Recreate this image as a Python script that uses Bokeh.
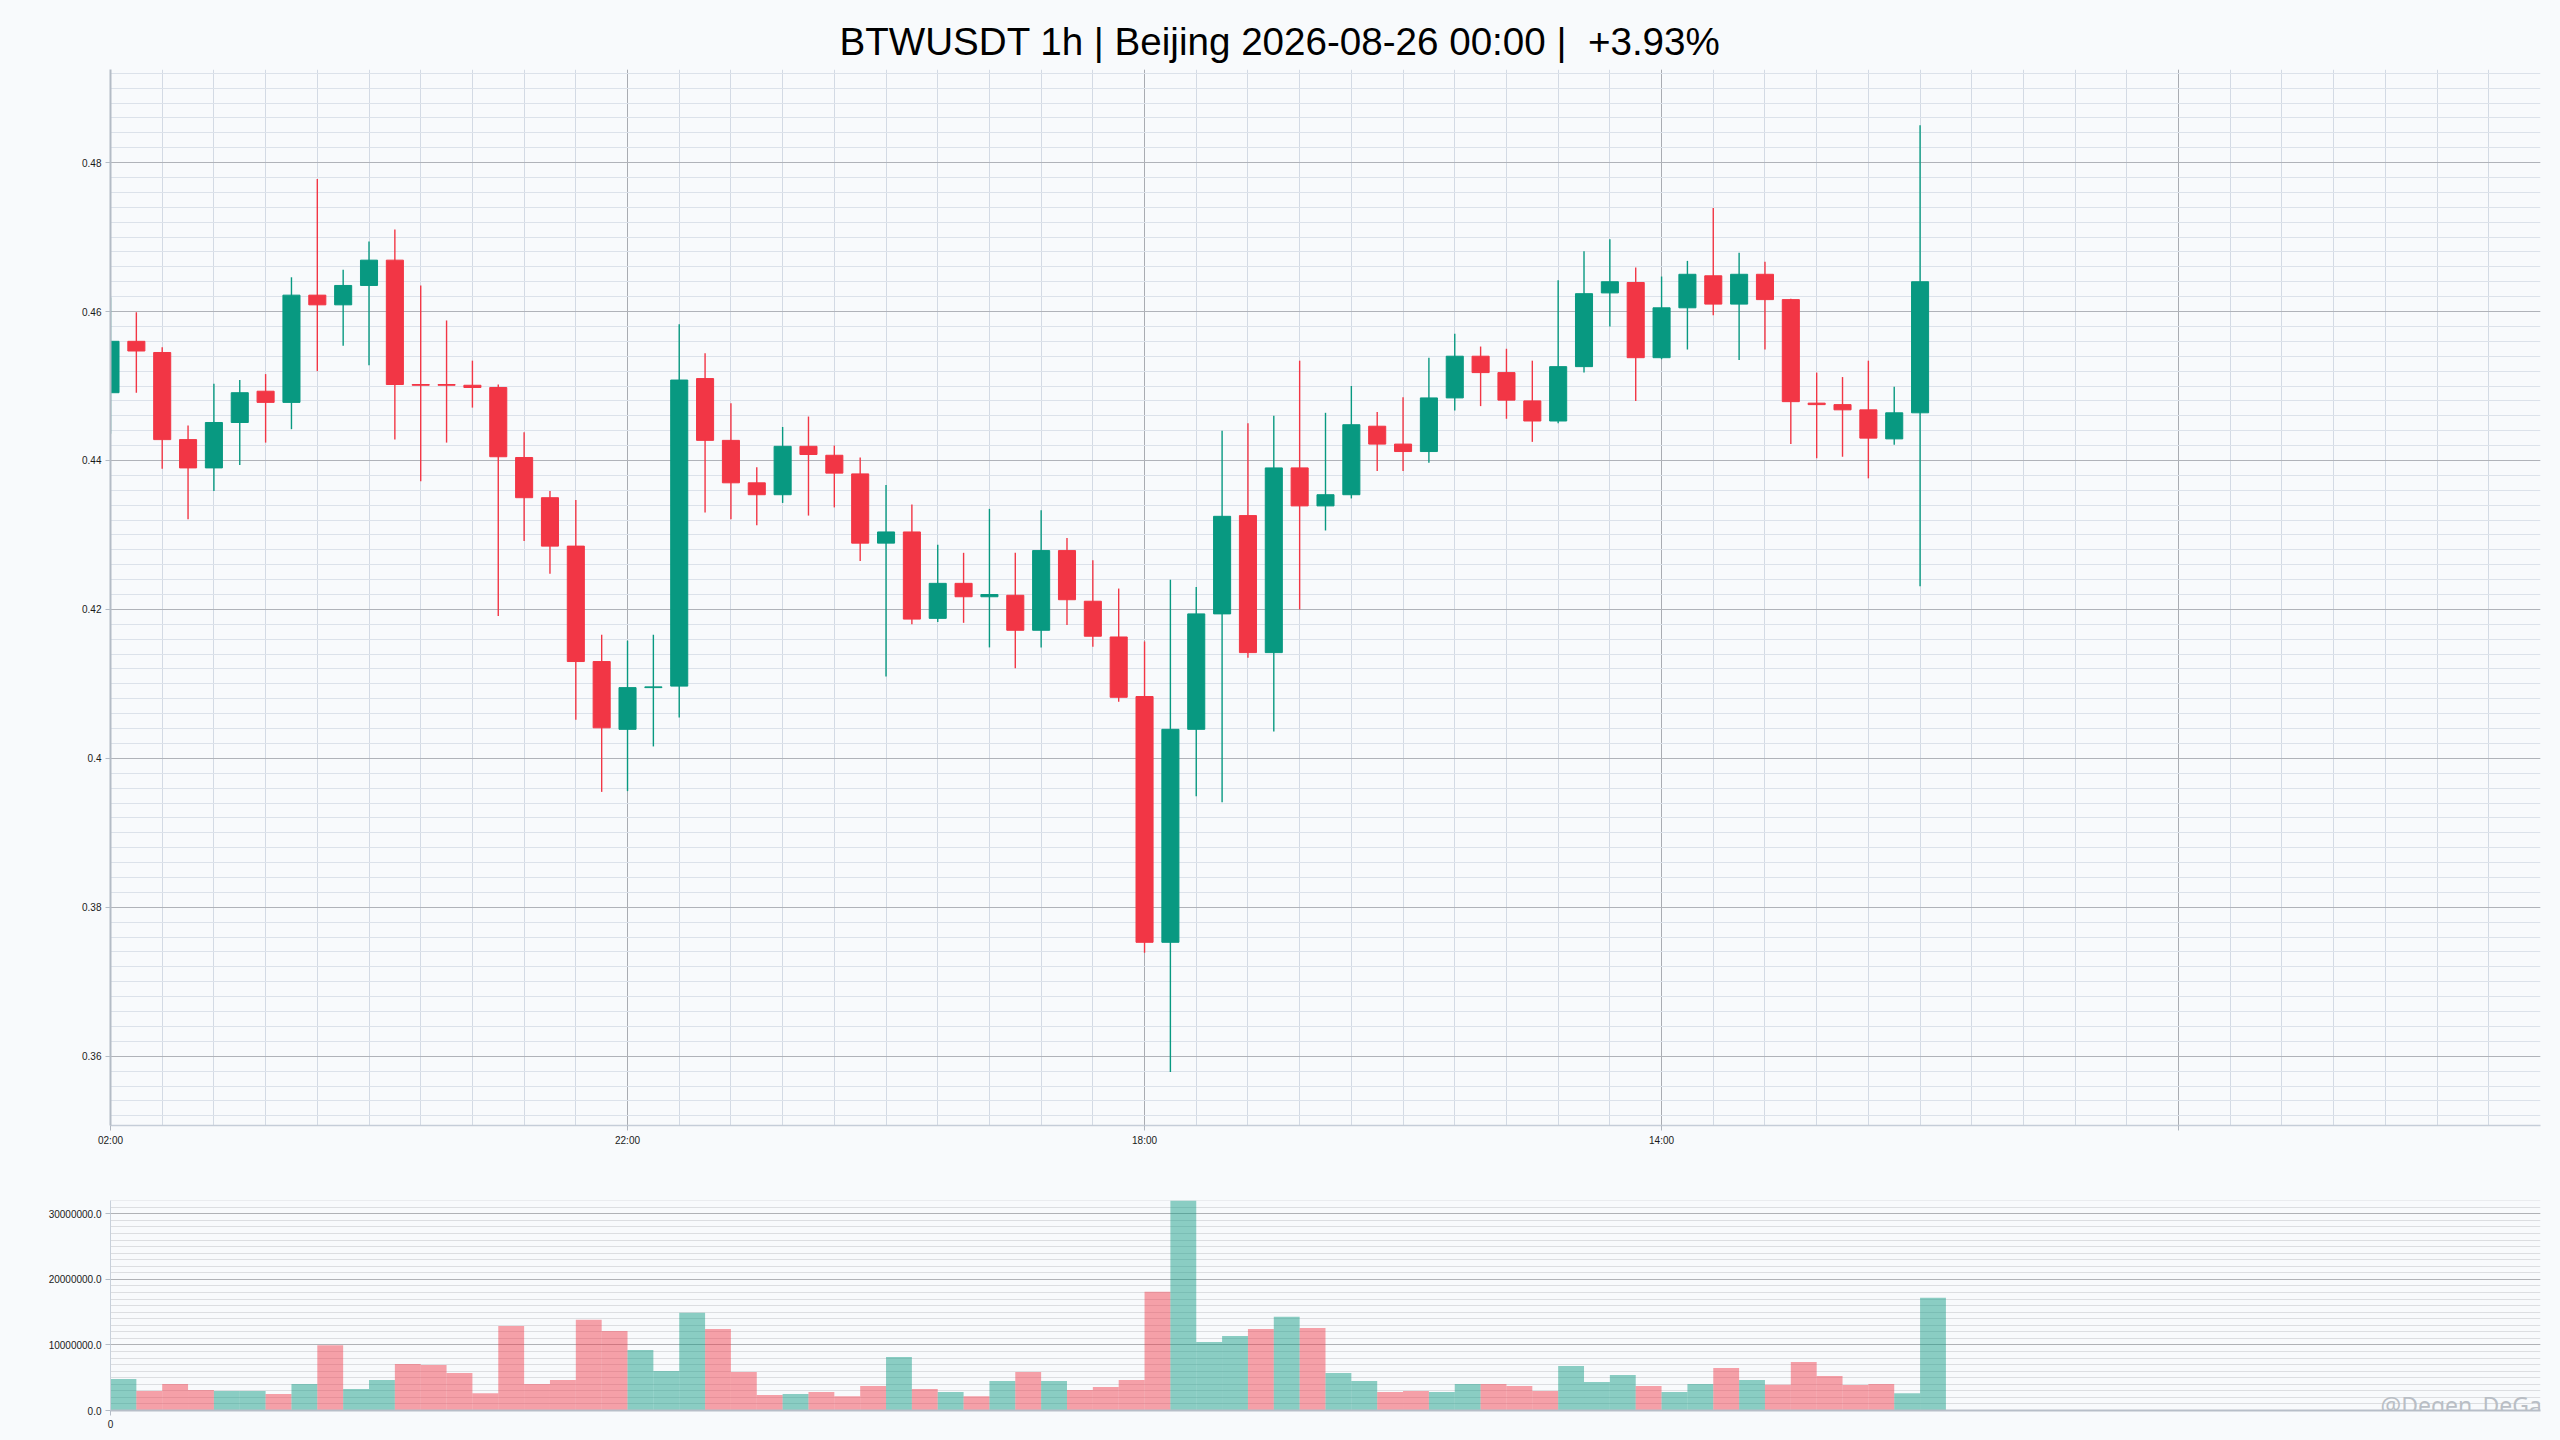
from bokeh.plotting import figure
from bokeh.models import Range1d, FixedTicker, Label, ColumnDataSource
from bokeh.layouts import column
from bokeh.embed import file_html
from bokeh.resources import INLINE

# ---------------- data ----------------
title_text = "BTWUSDT 1h | Beijing 2026-08-26 00:00 |\u00a0 +3.93%"

opens = [0.4491, 0.4560, 0.4545, 0.4428, 0.4390, 0.4451, 0.4493, 0.4478, 0.4622, 0.4609,
         0.4635, 0.4669, 0.4502, 0.4502, 0.4501, 0.4498, 0.4404, 0.4350, 0.4285, 0.4130,
         0.4039, 0.4095, 0.4097, 0.4510, 0.4427, 0.4370, 0.4354, 0.4419, 0.4407, 0.4382,
         0.4289, 0.4304, 0.4188, 0.4235, 0.4217, 0.4219, 0.4172, 0.4279, 0.4211, 0.4163,
         0.4083, 0.3753, 0.4039, 0.4194, 0.4326, 0.4142, 0.4390, 0.4339, 0.4354, 0.4446,
         0.4422, 0.4412, 0.4484, 0.4540, 0.4518, 0.4480, 0.4453, 0.4526, 0.4625, 0.4639,
         0.4538, 0.4605, 0.4648, 0.4610, 0.4650, 0.4616, 0.4477, 0.4475, 0.4468, 0.4429,
         0.4464]
highs = [0.4619, 0.4599, 0.4552, 0.4447, 0.4503, 0.4508, 0.4516, 0.4646, 0.4778, 0.4656,
         0.4694, 0.4710, 0.4635, 0.4588, 0.4534, 0.4502, 0.4438, 0.4359, 0.4347, 0.4166,
         0.4158, 0.4166, 0.4583, 0.4544, 0.4477, 0.4391, 0.4445, 0.4459, 0.4420, 0.4404,
         0.4367, 0.4341, 0.4287, 0.4276, 0.4335, 0.4276, 0.4333, 0.4296, 0.4266, 0.4228,
         0.4157, 0.4240, 0.4230, 0.4440, 0.4450, 0.4460, 0.4534, 0.4464, 0.4500, 0.4465,
         0.4485, 0.4538, 0.4570, 0.4553, 0.4550, 0.4534, 0.4642, 0.4681, 0.4697, 0.4659,
         0.4647, 0.4668, 0.4739, 0.4679, 0.4667, 0.4617, 0.4518, 0.4512, 0.4534, 0.4499,
         0.4850]
lows = [0.4436, 0.4491, 0.4389, 0.4321, 0.4359, 0.4394, 0.4424, 0.4442, 0.4520, 0.4554,
        0.4528, 0.4428, 0.4372, 0.4424, 0.4471, 0.4191, 0.4292, 0.4248, 0.4052, 0.3955,
        0.3956, 0.4016, 0.4055, 0.4330, 0.4321, 0.4313, 0.4343, 0.4326, 0.4337, 0.4265,
        0.4110, 0.4180, 0.4183, 0.4182, 0.4149, 0.4121, 0.4149, 0.4179, 0.4150, 0.4076,
        0.3739, 0.3579, 0.3949, 0.3941, 0.4135, 0.4036, 0.4200, 0.4306, 0.4349, 0.4386,
        0.4386, 0.4397, 0.4467, 0.4473, 0.4456, 0.4425, 0.4450, 0.4518, 0.4580, 0.4480,
        0.4536, 0.4549, 0.4595, 0.4535, 0.4549, 0.4422, 0.4403, 0.4405, 0.4376, 0.4421,
        0.4231]
closes = [0.4560, 0.4547, 0.4428, 0.4390, 0.4451, 0.4491, 0.4478, 0.4622, 0.4609, 0.4635,
          0.4669, 0.4502, 0.4501, 0.4501, 0.4498, 0.4405, 0.4350, 0.4285, 0.4130, 0.4041,
          0.4095, 0.4096, 0.4508, 0.4427, 0.4370, 0.4354, 0.4419, 0.4408, 0.4383, 0.4289,
          0.4304, 0.4187, 0.4235, 0.4217, 0.4220, 0.4172, 0.4279, 0.4213, 0.4164, 0.4082,
          0.3753, 0.4039, 0.4194, 0.4325, 0.4142, 0.4390, 0.4339, 0.4354, 0.4448, 0.4422,
          0.4412, 0.4484, 0.4540, 0.4518, 0.4481, 0.4453, 0.4526, 0.4624, 0.4640, 0.4538,
          0.4605, 0.4650, 0.4610, 0.4650, 0.4616, 0.4479, 0.4475, 0.4468, 0.4430, 0.4464,
          0.4640]
volumes = [4.80e6, 2.96e6, 4.03e6, 3.11e6, 2.96e6, 2.96e6, 2.50e6, 4.03e6, 9.95e6, 3.27e6,
           4.64e6, 7.09e6, 6.94e6, 5.71e6, 2.65e6, 12.91e6, 4.03e6, 4.64e6, 13.83e6, 12.14e6,
           9.23e6, 6.02e6, 14.90e6, 12.45e6, 5.87e6, 2.35e6, 2.50e6, 2.81e6, 2.19e6, 3.72e6,
           8.16e6, 3.27e6, 2.81e6, 2.19e6, 4.49e6, 5.87e6, 4.49e6, 3.11e6, 3.57e6, 4.64e6,
           18.11e6, 32.04e6, 10.46e6, 11.38e6, 12.45e6, 14.29e6, 12.60e6, 5.71e6, 4.49e6, 2.81e6,
           2.96e6, 2.81e6, 4.03e6, 4.03e6, 3.72e6, 2.96e6, 6.79e6, 4.34e6, 5.41e6, 3.72e6,
           2.81e6, 4.03e6, 6.48e6, 4.64e6, 3.93e6, 7.40e6, 5.26e6, 3.88e6, 4.03e6, 2.65e6,
           17.19e6]

x_tick_positions = [0, 20, 40, 60, 80]
x_tick_labels = ["02:00", "22:00", "18:00", "14:00", ""]
price_ticks = [0.36, 0.38, 0.40, 0.42, 0.44, 0.46, 0.48]
price_tick_labels = ["0.36", "0.38", "0.4", "0.42", "0.44", "0.46", "0.48"]
vol_ticks = [0, 10000000, 20000000, 30000000]
vol_tick_labels = ["0.0", "10000000.0", "20000000.0", "30000000.0"]
watermark = "@Degen_DeGa"

# ---------------- styling ----------------
BG = "#F8FAFC"
UP = "#089981"
DOWN = "#F23645"
FONT = "Liberation Sans"

n = len(opens)
idx = list(range(n))
colors = [UP if c >= o else DOWN for o, c in zip(opens, closes)]

src = ColumnDataSource(dict(
    x=idx,
    x_right=[i + 1 for i in idx],
    o=opens, h=highs, l=lows, c=closes,
    top=[max(o, c) for o, c in zip(opens, closes)],
    bot=[min(o, c) for o, c in zip(opens, closes)],
    color=colors,
    vol=volumes,
))

xr = Range1d(0, 94)

p = figure(width=2560, height=1158, output_backend="svg", toolbar_location=None,
           x_range=xr, y_range=Range1d(0.3507, 0.4925),
           min_border_left=110, min_border_right=20, min_border_top=69, min_border_bottom=33,
           background_fill_color=BG, border_fill_color=BG, outline_line_color=None)

p.title.text = title_text
p.title.align = "left"
p.title.offset = 729
p.title.standoff = 13
p.title.text_font = FONT
p.title.text_font_size = "38.6px"
p.title.text_font_style = "normal"
p.title.text_color = "#000000"

p.segment(x0="x", y0="l", x1="x", y1="h", source=src, line_color="color", line_width=1.4)
p.vbar(x="x", width=0.66, top="top", bottom="bot", source=src,
       fill_color="color", line_color="color", line_width=1)

# axes
p.xaxis.ticker = FixedTicker(ticks=x_tick_positions, minor_ticks=list(range(0, 96, 2)))
p.xaxis.major_label_overrides = {t: lab for t, lab in zip(x_tick_positions, x_tick_labels)}
p.yaxis.ticker = FixedTicker(ticks=price_ticks,
                             minor_ticks=[round(0.350 + 0.002 * k, 3) for k in range(72)])
p.yaxis.major_label_overrides = {t: lab for t, lab in zip(price_ticks, price_tick_labels)}
for ax in (p.xaxis, p.yaxis):
    ax.major_label_text_font = FONT
    ax.major_label_text_font_size = "10px"
    ax.major_label_text_color = "#1a1a1a"
    ax.major_tick_in = 0
    ax.major_tick_out = 5
    ax.minor_tick_in = 0
    ax.minor_tick_out = 0
    ax.major_label_standoff = 4
p.yaxis.axis_line_color = "#b4bcc6"
p.yaxis.axis_line_width = 2
p.yaxis.major_tick_line_color = "#b4bcc6"
p.xaxis.axis_line_color = "#c5cdd8"
p.xaxis.axis_line_width = 1.5
p.xaxis.major_tick_line_color = "#b0b6bf"

p.xgrid.grid_line_color = "#a9acb2"
p.xgrid.grid_line_width = 1
p.xgrid.minor_grid_line_color = "#d3dae4"
p.xgrid.minor_grid_line_width = 1
p.ygrid.grid_line_color = "#b0b3b9"
p.ygrid.grid_line_width = 1
p.ygrid.minor_grid_line_color = "#dce2ea"
p.ygrid.minor_grid_line_width = 1

# ---------------- volume ----------------
v = figure(width=2560, height=282, output_backend="svg", toolbar_location=None,
           x_range=xr, y_range=Range1d(0, max(volumes)),
           min_border_left=110, min_border_right=20, min_border_top=42, min_border_bottom=30,
           background_fill_color=BG, border_fill_color=BG, outline_line_color=None)
v.quad(left="x", right="x_right", bottom=0, top="vol", source=src,
       fill_color="color", fill_alpha=0.46, line_color=None)

v.xaxis.ticker = FixedTicker(ticks=[0])
v.xaxis.major_label_overrides = {0: "0"}
v.yaxis.ticker = FixedTicker(ticks=vol_ticks, minor_ticks=[k * 1000000 for k in range(33)])
v.yaxis.major_label_overrides = {t: lab for t, lab in zip(vol_ticks, vol_tick_labels)}
for ax in (v.xaxis, v.yaxis):
    ax.major_label_text_font = FONT
    ax.major_label_text_font_size = "10px"
    ax.major_label_text_color = "#1a1a1a"
    ax.major_tick_in = 0
    ax.major_tick_out = 5
    ax.minor_tick_in = 0
    ax.minor_tick_out = 0
    ax.major_label_standoff = 4
    ax.major_tick_line_color = "#b4bcc6"
v.yaxis.axis_line_color = "#c8d0da"
v.yaxis.axis_line_width = 1
v.xaxis.axis_line_color = "#b7bec8"
v.xaxis.axis_line_width = 2
v.xgrid.visible = False
v.ygrid.grid_line_color = "#b0b2b6"
v.ygrid.minor_grid_line_color = "#dcdee1"

v.add_layout(Label(x=2270, y=6, x_units="screen", y_units="screen", text=watermark,
                   text_font="Noto Sans", text_font_size="23px", text_color="#b9bec5",
                   text_baseline="alphabetic", level="overlay"))

layout = column(p, v, spacing=0)
layout.styles = {"background-color": BG}
open("out.html", "w").write(file_html(layout, INLINE, title="BTWUSDT"))
